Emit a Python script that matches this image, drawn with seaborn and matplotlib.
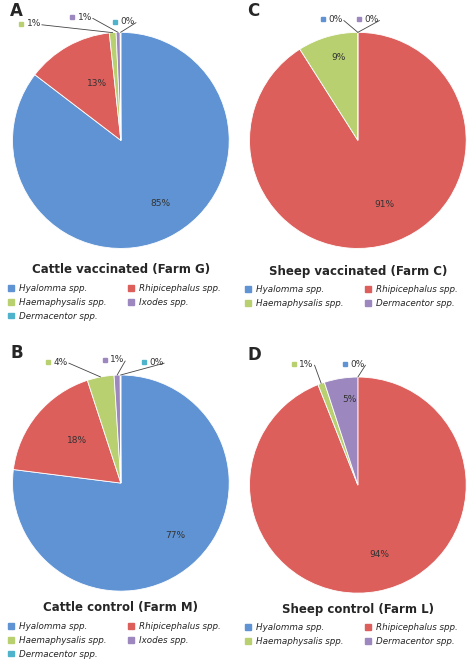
import numpy as np
import matplotlib
matplotlib.use("Agg")
import matplotlib.pyplot as plt
import seaborn as sns

sns.set_theme(style="white")
plt.rcParams['font.family'] = ['DejaVu Sans']

# tick species and colours
species_cattle = ["Hyalomma spp.", "Rhipicephalus spp.", "Haemaphysalis spp.",
                  "Ixodes spp.", "Dermacentor spp."]
species_sheep = ["Hyalomma spp.", "Rhipicephalus spp.", "Haemaphysalis spp.",
                 "Dermacentor spp."]
colors_cattle = ["#5f93d3", "#dc5f5c", "#b8d070", "#9c88bf", "#4fb3cc"]
colors_sheep = ["#5f93d3", "#dc5f5c", "#b8d070", "#9c88bf"]

# percentages per panel
cattle_vacc = [85.4, 12.9, 1.0, 0.6, 0.1]
cattle_ctrl = [77.0, 18.0, 4.0, 0.9, 0.1]
sheep_vacc = [0.0, 91.0, 9.0, 0.0]
sheep_ctrl = [0.0, 94.0, 1.0, 5.0]

# label placement: radius for inside labels (None = outside), outside positions
panels = [
    ("A", "Cattle vaccinated (Farm G)", cattle_vacc, species_cattle, colors_cattle,
     [0.65, 0.6, None, None, None],
     [(0, 0), (0, 0), (-0.85, 1.08), (-0.38, 1.14), (0.02, 1.1)]),
    ("C", "Sheep vaccinated (Farm C)", sheep_vacc, species_sheep, colors_sheep,
     [None, 0.62, 0.8, None],
     [(-0.25, 1.12), (0, 0), (0, 0), (0.08, 1.12)]),
    ("B", "Cattle control (Farm M)", cattle_ctrl, species_cattle, colors_cattle,
     [0.65, 0.62, None, None, None],
     [(0, 0), (0, 0), (-0.6, 1.12), (-0.08, 1.14), (0.28, 1.12)]),
    ("D", "Sheep control (Farm L)", sheep_ctrl, species_sheep, colors_sheep,
     [None, 0.65, None, 0.8],
     [(-0.05, 1.12), (0, 0), (-0.52, 1.12), (0, 0)]),
]
pie_pos = {"A": [0.015, 0.62, 0.48, 0.372], "C": [0.515, 0.62, 0.48, 0.372],
           "B": [0.015, 0.107, 0.48, 0.372], "D": [0.515, 0.104, 0.48, 0.372]}
title_y = {"A": 0.596, "C": 0.594, "B": 0.09, "D": 0.088}

fig = plt.figure(figsize=(4.74, 6.68), dpi=100)

for letter, title, vals, names, cols, inside, outside in panels:
    ax = fig.add_axes(pie_pos[letter])
    wedges, _t = ax.pie(vals, colors=cols, startangle=90, counterclock=False,
                        wedgeprops=dict(linewidth=0.6, edgecolor="white"))
    ax.set_xlim(-1.05, 1.05)
    ax.set_ylim(-1.05, 1.25)
    ax.set_aspect("auto")
    total = sum(vals)
    for i, w in enumerate(wedges):
        pct = f"{round(vals[i] / total * 100):d}%"
        mid = np.deg2rad((w.theta1 + w.theta2) / 2)
        if inside[i] is not None:
            r = inside[i]
            x, y = r * np.cos(mid), r * np.sin(mid)
        else:
            x, y = outside[i]
            ax.plot([x + 0.12, 1.0 * np.cos(mid)], [y - 0.01, 1.0 * np.sin(mid)],
                    color="#444444", lw=0.6, clip_on=False)
        ax.plot(x - 0.07, y, marker="s", ms=3, color=cols[i], clip_on=False)
        ax.text(x - 0.02, y, pct, fontsize=6.5, color="#333333",
                ha="left", va="center")
    ax.text(-1.02, 1.2, letter, fontsize=12, fontweight="bold", ha="left",
            va="center")
    fig.text(pie_pos[letter][0] + 0.24, title_y[letter], title, fontsize=8.5,
             fontweight="bold", ha="center", va="center")
    # legend rows laid out left-to-right
    n = len(names)
    order = list(range(0, n, 2)) + list(range(1, n, 2))
    handles = [plt.Rectangle((0, 0), 1, 1, color=cols[k]) for k in order]
    fig.legend(handles, [names[k] for k in order], ncol=2,
               loc="upper left",
               bbox_to_anchor=(pie_pos[letter][0] - 0.01, title_y[letter] - 0.012),
               frameon=False, handlelength=0.6, handleheight=0.6,
               columnspacing=2.5, labelspacing=0.55, handletextpad=0.6,
               borderpad=0.2, prop=dict(style="italic", size=6.3))

fig.savefig("out.png", dpi=100)
